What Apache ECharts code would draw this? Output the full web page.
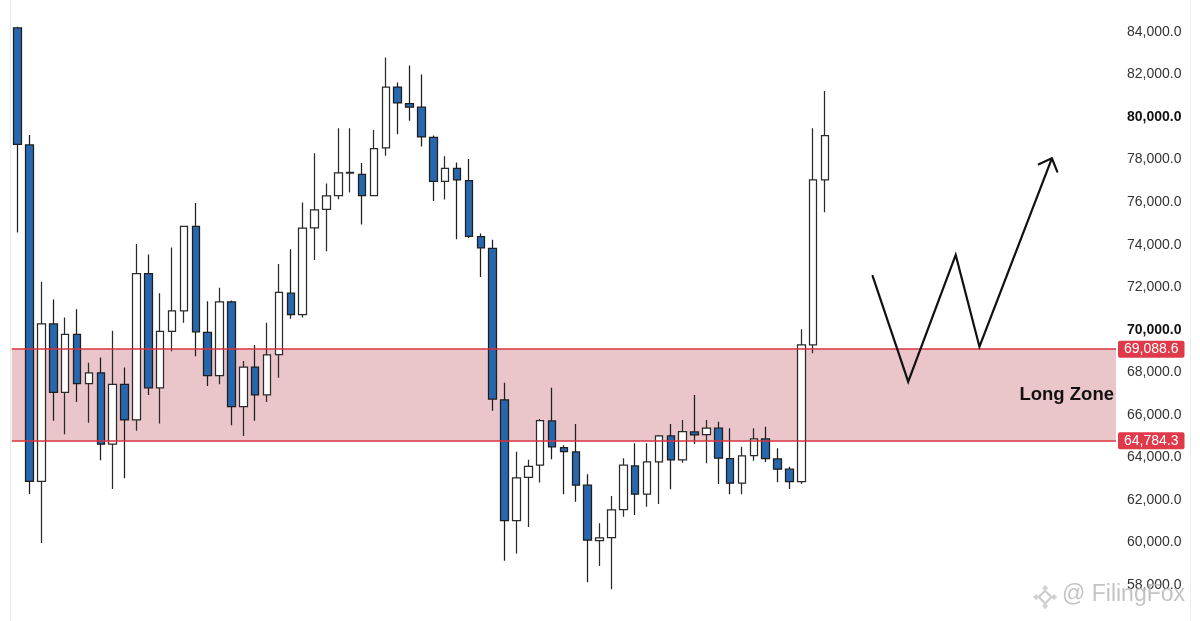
<!DOCTYPE html>
<html>
<head>
<meta charset="utf-8">
<script src="https://cdn.jsdelivr.net/npm/echarts@6/dist/echarts.min.js"></script>
<style>html,body{margin:0;padding:0;background:#fff}#c{width:1200px;height:621px}</style>
</head>
<body>
<div id="c"></div>
<script>
// ---- data ----
const opens  = [84193,78688,62874,70273,67053,69789,67471,67974,64618,67438,65760,72642,67269,69925,70884,74861,69873,67843,71307,66381,68247,66935,68835,71721,70715,74791,75665,76304,77360,77310,76304,78551,81410,80634,80465,79045,76977,77593,77010,74382,73832,66705,61031,63066,63631,65713,64458,64256,62690,60086,60227,61543,63598,62267,63786,65008,63880,65196,65069,65370,63941,62784,64082,64867,63927,63443,62860,69286,77043];
const closes = [78721,62874,70273,67053,69789,67471,67974,64618,67438,65760,72642,67269,69925,70884,74861,69906,67843,71307,66381,68247,66935,68816,71754,70715,74777,75632,76290,77376,77400,76304,78519,81410,80667,80465,79064,76977,77593,77043,74396,73850,66743,61031,63034,63579,65727,64491,64270,62690,60105,60213,61529,63631,62267,63786,65008,63880,65210,65055,65370,63960,62784,64068,64867,63941,63443,62860,69286,77043,79125];
const lows   = [74574,62281,59978,65727,65088,66602,65624,63861,62516,63024,65257,66935,65591,68985,70325,68750,67358,67438,65506,65008,65727,66602,67739,70513,70579,73282,73686,76135,76455,74946,76290,78185,79191,79830,78617,76055,76121,74259,74311,72483,66193,59136,59480,60725,62822,63913,62267,61919,58130,58897,57801,61214,61294,61684,61811,62502,63753,64632,63725,62751,62267,62267,63847,63786,62831,62516,62751,68896,75524];
const highs  = [84250,79158,72257,71420,70579,70964,68444,68698,69958,68228,74034,73536,71721,73869,74880,75966,71335,71970,71382,68534,69286,70325,73098,73785,75985,78302,76873,79478,79478,77846,79393,82801,81626,82430,82002,79130,78157,77865,78034,74532,74227,67509,64265,63889,65807,67279,64571,65572,63208,60904,62187,63960,64665,64665,65055,65572,65760,66935,65760,65680,65370,64505,65370,65445,64430,63565,70024,79473,81226];
const slotCount = 93; // candles + empty space on the right
const categories = Array.from({length: slotCount}, (_, i) => 'D' + (i + 1));
const yTicks = {min: 58000, max: 84000, interval: 2000};
const boldTicks = [80000, 70000];
const zoneTop = 69088.6;
const zoneBottom = 64784.3;
const zoneName = 'Long Zone';
// projected path (slot index, price)
const pathX = [72, 75, 79, 81, 87.1];
const pathY = [72530, 67560, 73517, 69206, 78063];
const headX = [86.0, 87.1, 87.55];
const headY = [77780, 78063, 77433];

const candles = opens.map((o, i) => [o, closes[i], lows[i], highs[i]]);
const fmt = v => Number(v).toLocaleString('en-US', {minimumFractionDigits: 1, maximumFractionDigits: 1});
const FONT = 'Liberation Sans, Arial, sans-serif';

const chart = echarts.init(document.getElementById('c'), null, {renderer: 'canvas'});
chart.setOption({
  backgroundColor: '#ffffff',
  animation: false,
  grid: {left: 11.8, right: 84, top: 32, bottom: 36},
  xAxis: [
    {type: 'category', data: categories, boundaryGap: true, show: false},
    {type: 'value', min: -0.5, max: slotCount - 0.5, show: false}
  ],
  yAxis: {
    type: 'value', position: 'right', min: yTicks.min, max: yTicks.max, interval: yTicks.interval,
    axisLine: {show: false}, axisTick: {show: false}, splitLine: {show: false},
    axisLabel: {
      margin: 11, color: '#333', fontSize: 14, fontFamily: FONT, align: 'left',
      formatter: v => boldTicks.includes(v) ? '{b|' + fmt(v) + '}' : fmt(v),
      rich: {b: {fontWeight: 'bold', color: '#111', fontSize: 14, fontFamily: FONT}}
    }
  },
  series: [
    {
      type: 'candlestick', data: candles, barWidth: 8, clip: false,
      itemStyle: {color: '#ffffff', color0: '#2767ae', borderColor: '#2a2a2a', borderColor0: '#1e1e1e', borderWidth: 1.25},
      markArea: {
        silent: true,
        itemStyle: {color: 'rgba(213,140,150,0.5)'},
        label: {show: true, position: 'insideRight', distance: 2, color: '#111', fontSize: 18.5, fontWeight: 'bold', fontFamily: FONT},
        data: [[{yAxis: zoneTop, name: zoneName}, {yAxis: zoneBottom}]]
      },
      markLine: {
        silent: true, symbol: 'none',
        lineStyle: {color: '#d8323e', width: 1.6, type: 'solid'},
        label: {
          show: true, position: 'end', distance: 2, formatter: p => fmt(p.value),
          backgroundColor: '#e0394a', color: '#fff', fontSize: 14, padding: [2, 6, 1, 6], borderRadius: 2,
          fontFamily: FONT
        },
        data: [{yAxis: zoneTop}, {yAxis: zoneBottom}]
      }
    },
    {
      type: 'line', xAxisIndex: 1, data: pathX.map((x, i) => [x, pathY[i]]), symbol: 'none',
      lineStyle: {color: '#111', width: 2.2, cap: 'round', join: 'miter'}, z: 5
    },
    {
      type: 'line', xAxisIndex: 1, data: headX.map((x, i) => [x, headY[i]]), symbol: 'none',
      lineStyle: {color: '#111', width: 2.2, cap: 'round'}, z: 5
    }
  ],
  graphic: [
    {type: 'line', shape: {x1: 10.5, y1: 0, x2: 10.5, y2: 621}, style: {stroke: '#e9e9e9', lineWidth: 1}, silent: true},
    {type: 'line', shape: {x1: 1190.5, y1: 0, x2: 1190.5, y2: 621}, style: {stroke: '#eeeeee', lineWidth: 1}, silent: true},
    {type: 'group', left: 1033, top: 585, silent: true, children: [
      {type: 'rect', shape: {x: -4.5, y: -4.5, width: 9, height: 9}, x: 13, y: 12, rotation: Math.PI / 4, style: {fill: 'none', stroke: '#cdcdcd', lineWidth: 2.2}},
      {type: 'rect', shape: {x: -2.2, y: -2.2, width: 4.4, height: 4.4}, x: 4, y: 12, rotation: Math.PI / 4, style: {fill: '#d2d2d2'}},
      {type: 'rect', shape: {x: -2.2, y: -2.2, width: 4.4, height: 4.4}, x: 22, y: 12, rotation: Math.PI / 4, style: {fill: '#d2d2d2'}},
      {type: 'rect', shape: {x: -2.2, y: -2.2, width: 4.4, height: 4.4}, x: 13, y: 3, rotation: Math.PI / 4, style: {fill: '#d2d2d2'}},
      {type: 'rect', shape: {x: -2.2, y: -2.2, width: 4.4, height: 4.4}, x: 13, y: 21, rotation: Math.PI / 4, style: {fill: '#d2d2d2'}}
    ]},
    {type: 'text', left: 1062, top: 583, silent: true, z: 100,
      style: {text: '@ FilingFox', fill: 'rgba(185,185,185,0.85)', font: '23px "Liberation Sans", Arial, sans-serif'}}
  ]
});
</script>
</body>
</html>
